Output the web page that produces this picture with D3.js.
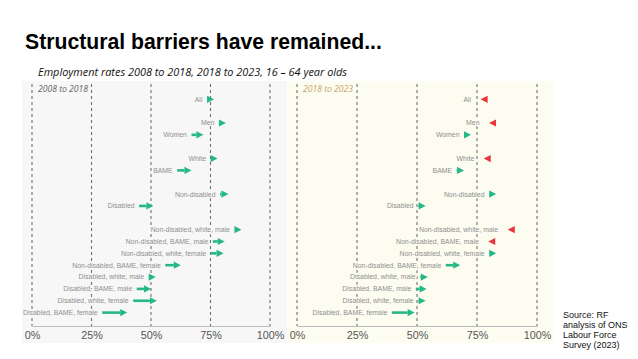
<!DOCTYPE html>
<html><head><meta charset="utf-8">
<script src="https://cdn.jsdelivr.net/npm/d3@7"></script>
<style>body{margin:0;background:#fff}svg{display:block}</style>
</head><body>
<svg id="c" width="638" height="359"></svg>
<script>
const categories = ["All","Men","Women","White","BAME","Non-disabled","Disabled",
  "Non-disabled, white, male","Non-disabled, BAME, male","Non-disabled, white, female","Non-disabled, BAME, female",
  "Disabled, white, male","Disabled, BAME, male","Disabled, white, female","Disabled, BAME, female"];
const groups = [0,1,1,2,2,3,3,4,4,4,4,4,4,4,4];
const rate2008 = [73.5,78.5,67,75,61,79,45,85.5,76,75,56,49,44,42.5,29.5];
const rate2018a = [76.5,81.5,72,78,67,82.5,51,88,81,80.5,62.5,52,50,52.5,40];
const rate2018b = [79.3,82.8,69.7,80.5,66.5,80,50.5,90.8,82.5,80,62,51.3,49.5,50.5,39.5];
const rate2023 = [76.5,80,72.5,77.8,69.6,83,53.6,87.8,79.7,83,68,54.5,54,53.6,49];
const ticks = [0,25,50,75,100];
const panels = [
  {label:"2008 to 2018", from:rate2008, to:rate2018a, range:[32,270], bg:"#f7f7f7", x0:22, x1:287, labelColor:"#666"},
  {label:"2018 to 2023", from:rate2018b, to:rate2023, range:[297,537], bg:"#fdfcf1", x0:288, x1:554, labelColor:"#c5a66a"}
];
const GREEN="#26b787", RED="#e8343c";
const svg = d3.select("#c");
svg.append("text").attr("x",25).attr("y",49).attr("font-family","Liberation Sans, Arial").attr("font-weight","bold")
  .attr("font-size",21.2).attr("fill","#000").text("Structural barriers have remained...");
svg.append("text").attr("x",38).attr("y",76).attr("font-family","Open Sans, sans-serif").attr("font-style","italic")
  .attr("font-size",10.9).attr("fill","#111").text("Employment rates 2008 to 2018, 2018 to 2023, 16 – 64 year olds");
const slot = categories.map((c,i)=>i+groups[i]);
const y = d3.scaleLinear().domain([0,18]).range([99.3,312.6]);
panels.forEach(p=>{
  const x = d3.scaleLinear().domain([0,100]).range(p.range);
  const g = svg.append("g");
  g.append("rect").attr("x",p.x0).attr("y",81).attr("width",p.x1-p.x0).attr("height",262).attr("fill",p.bg);
  g.selectAll("line.grid").data(ticks).join("line").attr("class","grid")
    .attr("x1",d=>x(d)).attr("x2",d=>x(d)).attr("y1",84).attr("y2",326)
    .attr("stroke","#6f6f6f").attr("stroke-width",1.1).attr("stroke-dasharray","3,3");
  const ax = g.append("g").attr("transform","translate(0,326)")
    .call(d3.axisBottom(x).tickValues(ticks).tickFormat(d=>d+"%").tickSize(0).tickPadding(5));
  ax.select(".domain").attr("stroke","#bbb").attr("stroke-width",1.2);
  ax.selectAll("text").attr("font-family","Liberation Sans, Arial").attr("font-size",10.8).attr("fill","#555");
  g.append("text").attr("x",p.range[0]+6).attr("y",92).attr("font-family","Open Sans, sans-serif").attr("font-style","italic")
    .attr("font-size",8.6).attr("fill",p.labelColor).text(p.label);
  categories.forEach((c,i)=>{
    const a=p.from[i], b=p.to[i], dir = b>=a?1:-1;
    const col = dir>0?GREEN:RED;
    const yy = y(slot[i]);
    const tip = x(b), hl=7, hw=3.6;
    const base = tip - dir*hl;
    const xs = x(a);
    const left = Math.min(xs, tip, base);
    g.append("text").attr("x",left-(dir>0?4.5:9.5)).attr("y",yy).attr("dy","0.35em").attr("text-anchor","end")
      .attr("font-family","Liberation Sans, Arial").attr("font-size",6.9).attr("fill","#8f8f8f")
      .attr("stroke",p.bg).attr("stroke-width",2.5).attr("paint-order","stroke").text(c);
    if ((base-xs)*dir>0) g.append("line").attr("x1",xs).attr("x2",base).attr("y1",yy).attr("y2",yy)
      .attr("stroke",col).attr("stroke-width",2.6);
    g.append("path").attr("d",`M${tip},${yy}L${base},${yy-hw}L${base},${yy+hw}Z`).attr("fill",col);
  });
});
const src=["Source: RF","analysis of ONS","Labour Force","Survey (2023)"];
svg.append("g").selectAll("text").data(src).join("text").attr("x",563).attr("y",(d,i)=>318+i*10)
  .attr("font-family","Liberation Sans, Arial").attr("font-size",9).attr("fill","#111").text(d=>d);
</script>
</body></html>
